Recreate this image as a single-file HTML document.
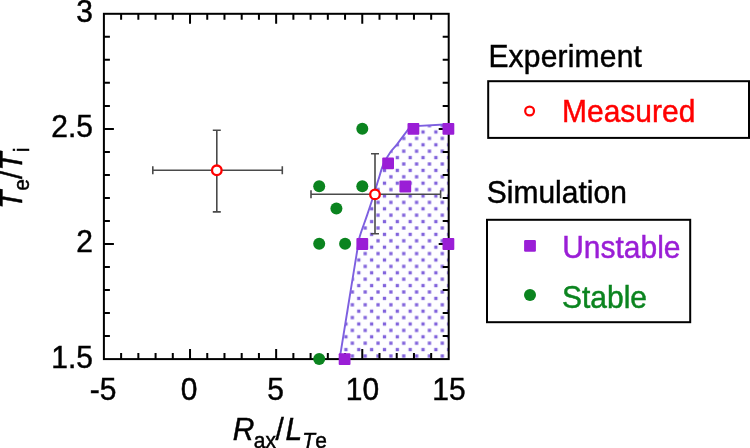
<!DOCTYPE html>
<html><head><meta charset="utf-8"><title>chart</title>
<style>
html,body{margin:0;padding:0;background:#fff;}
body{width:750px;height:448px;overflow:hidden;}
svg{display:block;font-family:"Liberation Sans",sans-serif;}
</style></head><body>
<svg width="750" height="448" viewBox="0 0 750 448">
<defs><pattern id="dots" x="365.2" y="253.6" width="12.85" height="12.8" patternUnits="userSpaceOnUse"><rect x="-1.65" y="-1.65" width="3.3" height="3.3" fill="#8163dc"/><rect x="11.20" y="-1.65" width="3.3" height="3.3" fill="#8163dc"/><rect x="-1.65" y="11.15" width="3.3" height="3.3" fill="#8163dc"/><rect x="11.20" y="11.15" width="3.3" height="3.3" fill="#8163dc"/><rect x="4.78" y="4.75" width="3.3" height="3.3" fill="#8163dc"/></pattern></defs>
<rect width="750" height="448" fill="#fff"/>
<path d="M339.60 359.10 C341.08 349.92 345.55 322.18 348.50 304.00 C351.45 285.82 355.45 261.17 357.30 250.00 C359.15 238.83 358.07 242.52 359.60 237.00 C361.13 231.48 364.38 223.15 366.50 216.90 C368.62 210.65 370.33 205.65 372.30 199.50 C374.27 193.35 376.43 185.92 378.30 180.00 C380.17 174.08 381.47 168.67 383.50 164.00 C385.53 159.33 388.18 155.37 390.50 152.00 C392.82 148.63 394.07 148.07 397.40 143.80 C400.73 139.53 408.32 129.30 410.50 126.40 L448.7 124.3 L448.7 359.1 Z" fill="#fefeff"/>
<path d="M339.60 359.10 C341.08 349.92 345.55 322.18 348.50 304.00 C351.45 285.82 355.45 261.17 357.30 250.00 C359.15 238.83 358.07 242.52 359.60 237.00 C361.13 231.48 364.38 223.15 366.50 216.90 C368.62 210.65 370.33 205.65 372.30 199.50 C374.27 193.35 376.43 185.92 378.30 180.00 C380.17 174.08 381.47 168.67 383.50 164.00 C385.53 159.33 388.18 155.37 390.50 152.00 C392.82 148.63 394.07 148.07 397.40 143.80 C400.73 139.53 408.32 129.30 410.50 126.40 L448.7 124.3 L448.7 359.1 Z" fill="url(#dots)"/>
<path d="M339.60 359.10 C341.08 349.92 345.55 322.18 348.50 304.00 C351.45 285.82 355.45 261.17 357.30 250.00 C359.15 238.83 358.07 242.52 359.60 237.00 C361.13 231.48 364.38 223.15 366.50 216.90 C368.62 210.65 370.33 205.65 372.30 199.50 C374.27 193.35 376.43 185.92 378.30 180.00 C380.17 174.08 381.47 168.67 383.50 164.00 C385.53 159.33 388.18 155.37 390.50 152.00 C392.82 148.63 394.07 148.07 397.40 143.80 C400.73 139.53 408.32 129.30 410.50 126.40 L448.7 124.3" fill="none" stroke="#7d5fe0" stroke-width="1.9" stroke-linejoin="round"/>
<g stroke="#000" stroke-width="2" fill="none" stroke-linecap="butt">
<rect x="103.90" y="13.80" width="344.80" height="345.30"/>
<path d="M121.12 359.10v-6 M121.12 13.80v6 M138.35 359.10v-6 M138.35 13.80v6 M155.58 359.10v-6 M155.58 13.80v6 M172.80 359.10v-6 M172.80 13.80v6 M190.03 359.10v-10 M190.03 13.80v10 M207.25 359.10v-6 M207.25 13.80v6 M224.48 359.10v-6 M224.48 13.80v6 M241.70 359.10v-6 M241.70 13.80v6 M258.93 359.10v-6 M258.93 13.80v6 M276.15 359.10v-10 M276.15 13.80v10 M293.38 359.10v-6 M293.38 13.80v6 M310.60 359.10v-6 M310.60 13.80v6 M327.83 359.10v-6 M327.83 13.80v6 M345.05 359.10v-6 M345.05 13.80v6 M362.27 359.10v-10 M362.27 13.80v10 M379.50 359.10v-6 M379.50 13.80v6 M396.73 359.10v-6 M396.73 13.80v6 M413.95 359.10v-6 M413.95 13.80v6 M431.18 359.10v-6 M431.18 13.80v6 M103.90 336.08h6 M448.70 336.08h-6 M103.90 313.06h6 M448.70 313.06h-6 M103.90 290.04h6 M448.70 290.04h-6 M103.90 267.02h6 M448.70 267.02h-6 M103.90 244.00h10 M448.70 244.00h-10 M103.90 220.98h6 M448.70 220.98h-6 M103.90 197.96h6 M448.70 197.96h-6 M103.90 174.94h6 M448.70 174.94h-6 M103.90 151.92h6 M448.70 151.92h-6 M103.90 128.90h10 M448.70 128.90h-10 M103.90 105.88h6 M448.70 105.88h-6 M103.90 82.86h6 M448.70 82.86h-6 M103.90 59.84h6 M448.70 59.84h-6 M103.90 36.82h6 M448.70 36.82h-6 "/>
</g>
<g fill="#0b841f">
<circle cx="319.2" cy="358.9" r="6"/><circle cx="319.2" cy="243.8" r="6"/><circle cx="345.1" cy="243.8" r="6"/><circle cx="336.4" cy="208.6" r="6"/><circle cx="319.2" cy="186.3" r="6"/><circle cx="362.3" cy="186.3" r="6"/><circle cx="362.3" cy="128.7" r="6"/>
</g>
<g fill="#9a1ed6">
<rect x="338.7" y="353.2" width="11.8" height="11.8" rx="1"/><rect x="356.4" y="238.1" width="11.8" height="11.8" rx="1"/><rect x="442.5" y="238.1" width="11.8" height="11.8" rx="1"/><rect x="399.4" y="180.6" width="11.8" height="11.8" rx="1"/><rect x="382.2" y="157.5" width="11.8" height="11.8" rx="1"/><rect x="407.5" y="123.0" width="11.8" height="11.8" rx="1"/><rect x="442.5" y="123.0" width="11.8" height="11.8" rx="1"/>
</g>
<path d="M152.8 170.2H282.3 M216.8 130.2V211.9 M152.8 166.2v8 M282.3 166.2v8 M212.8 130.2h8 M212.8 211.9h8 M311.0 194.3H440.6 M375.0 153.8V233.8 M311.0 190.3v8 M440.6 190.3v8 M371.0 153.8h8 M371.0 233.8h8 " stroke="#4a4a4a" stroke-width="1.6" fill="none"/>
<circle cx="216.8" cy="170.3" r="4.8" fill="#fff" stroke="#f00" stroke-width="2.3"/>
<circle cx="375" cy="194.4" r="4.8" fill="#fff" stroke="#f00" stroke-width="2.3"/>
<g font-size="30" fill="#000" stroke="#000" stroke-width="0.45">
<text transform="translate(103.0 400.3) scale(1 1.035)" text-anchor="middle">-5</text>
<text transform="translate(189.1 400.3) scale(1 1.035)" text-anchor="middle">0</text>
<text transform="translate(275.6 400.3) scale(1 1.035)" text-anchor="middle">5</text>
<text transform="translate(362.4 400.3) scale(1 1.035)" text-anchor="middle">10</text>
<text transform="translate(448.9 400.3) scale(1 1.035)" text-anchor="middle">15</text>
<text transform="translate(93.0 367.5) scale(1 1.035)" text-anchor="end">1.5</text>
<text transform="translate(93.0 252.4) scale(1 1.035)" text-anchor="end">2</text>
<text transform="translate(93.0 137.3) scale(1 1.035)" text-anchor="end">2.5</text>
<text transform="translate(93.0 22.2) scale(1 1.035)" text-anchor="end">3</text>
<text transform="translate(232.8 440.2) scale(1 1.035)"><tspan font-style="italic">R</tspan><tspan font-size="21" dy="7.5" dx="-0.6">ax</tspan><tspan dy="-7.5" dx="-0.5">/</tspan><tspan font-style="italic" dx="1.6">L</tspan><tspan font-size="21" dy="7.5" dx="0.2"><tspan font-style="italic">T</tspan>e</tspan></text>
<text transform="translate(21.6 209.0) rotate(-90) scale(1 1.035)"><tspan font-style="italic">T</tspan><tspan font-size="21" dy="7.5">e</tspan><tspan dy="-7.5">/</tspan><tspan font-style="italic">T</tspan><tspan font-size="21" dy="7.5">i</tspan></text>
<text transform="translate(488.4 66.6) scale(1 1.035)" letter-spacing="0.2">Experiment</text>
<text transform="translate(486.8 202.7) scale(1 1.035)">Simulation</text>
<text transform="translate(562.0 122.4) scale(1 1.035)" fill="#f00" stroke="#f00">Measured</text>
<text transform="translate(562.2 258.2) scale(1 1.035)" fill="#9a1ed6" stroke="#9a1ed6">Unstable</text>
<text transform="translate(562.0 307.8) scale(1 1.035)" fill="#0b841f" stroke="#0b841f">Stable</text>
</g>
<rect x="488.2" y="81.2" width="260.8" height="56.7" fill="none" stroke="#000" stroke-width="2"/>
<rect x="487" y="219.8" width="203.2" height="102.4" fill="none" stroke="#000" stroke-width="2"/>
<circle cx="529.6" cy="111" r="4.4" fill="#fff" stroke="#f00" stroke-width="2.2"/>
<rect x="524.1" y="239.9" width="11.8" height="11.8" rx="1.3" fill="#9a1ed6"/>
<circle cx="530" cy="295" r="6" fill="#0b841f"/>
</svg>
</body></html>
